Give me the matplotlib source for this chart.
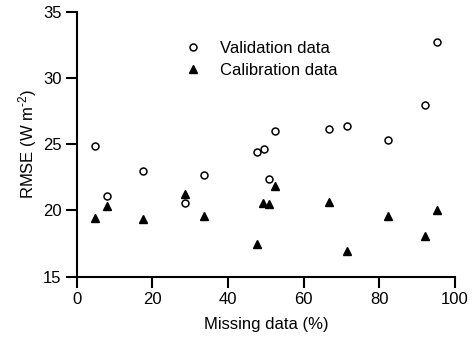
import matplotlib
matplotlib.use("Agg")
import matplotlib.pyplot as plt

plt.rcParams['font.family'] = ['Liberation Sans', 'DejaVu Sans']
plt.rcParams['mathtext.fontset'] = 'custom'
plt.rcParams['mathtext.rm'] = 'Liberation Sans'
plt.rcParams['mathtext.it'] = 'Liberation Sans:italic'

# Missing data (%) for each run
missing_valid = [4.7, 8.1, 17.6, 28.6, 33.5, 47.6, 49.4, 50.7, 52.5, 66.6, 71.4, 82.4, 92.0, 95.2]
rmse_valid = [24.9, 21.1, 23.0, 20.55, 22.65, 24.45, 24.65, 22.35, 26.0, 26.15, 26.4, 25.3, 27.95, 32.7]

missing_calib = [4.7, 8.1, 17.6, 28.6, 33.5, 47.6, 49.2, 50.7, 52.5, 66.6, 71.4, 82.4, 92.0, 95.2]
rmse_calib = [19.4, 20.35, 19.35, 21.25, 19.6, 17.5, 20.55, 20.5, 21.85, 20.6, 16.9, 19.6, 18.05, 20.05]

fig = plt.figure(figsize=(4.74, 3.51), dpi=100)
ax = fig.add_axes([0.162, 0.212, 0.798, 0.754])

ax.plot(missing_valid, rmse_valid, linestyle='none', marker='o', markersize=5,
        markerfacecolor='white', markeredgecolor='black', markeredgewidth=1.1,
        label='Validation data')
ax.plot(missing_calib, rmse_calib, linestyle='none', marker='^', markersize=6,
        color='black', label='Calibration data')

ax.set_xlim(0, 100)
ax.set_ylim(15, 35)
ax.set_xticks(range(0, 101, 20))
ax.set_yticks(range(15, 36, 5))
ax.spines['top'].set_visible(False)
ax.spines['right'].set_visible(False)
ax.spines['left'].set_linewidth(1.5)
ax.spines['bottom'].set_linewidth(1.5)
ax.tick_params(direction='out', length=8, width=1.5, labelsize=12, pad=3)

ax.set_xlabel('Missing data (%)', fontsize=12, labelpad=7)
ax.set_ylabel(r'RMSE (W m$^{\text{-2}}$)', fontsize=12, labelpad=3)

ax.legend(loc='upper left', bbox_to_anchor=(0.255, 0.915), frameon=False,
          fontsize=12, handlelength=1.6, handletextpad=0.8, labelspacing=0.4,
          borderaxespad=0)

fig.savefig('out.png', dpi=100)
